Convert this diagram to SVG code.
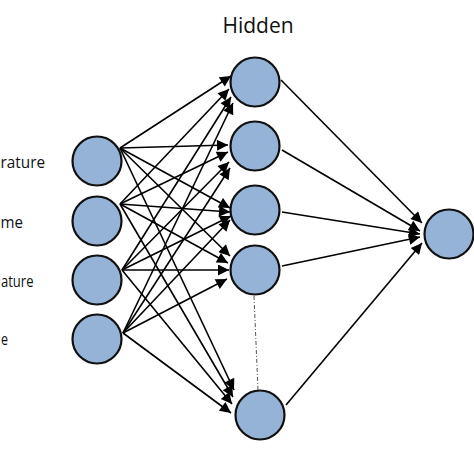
<svg xmlns="http://www.w3.org/2000/svg" width="474" height="474" viewBox="0 0 474 474">
<style>
.node{fill:#95b3d7;stroke:#111;stroke-width:2.2}
.lbl{font-family:"Open Sans","Liberation Sans",sans-serif;font-size:17px;fill:#111}
.ttl{font-family:"Open Sans","Liberation Sans",sans-serif;font-size:21px;fill:#111;text-anchor:middle}
.c line{stroke:#000;stroke-width:1.6;marker-end:url(#ah)}
</style>
<defs>
<marker id="ah" viewBox="0 0 10 10" refX="10" refY="5" markerUnits="userSpaceOnUse" markerWidth="13" markerHeight="11" orient="auto">
<path d="M0,0 L10,5 L0,10 z" fill="#000"/>
</marker>
</defs>
<rect width="474" height="474" fill="#fff"/>
<text class="ttl" x="258" y="33">Hidden</text>
<text class="lbl" x="0.5" y="168" textLength="44.5" lengthAdjust="spacingAndGlyphs">rature</text>
<text class="lbl" x="0.5" y="228" textLength="22.5" lengthAdjust="spacingAndGlyphs">me</text>
<text class="lbl" x="1" y="287" textLength="32.5" lengthAdjust="spacingAndGlyphs">ature</text>
<text class="lbl" x="1" y="345" textLength="7" lengthAdjust="spacingAndGlyphs">e</text>
<g class="c" id="connectors">
<line x1="120" y1="148" x2="231" y2="76"/>
<line x1="120" y1="148" x2="228" y2="145"/>
<line x1="120" y1="148" x2="230" y2="208"/>
<line x1="120" y1="148" x2="230" y2="256"/>
<line x1="120" y1="148" x2="234" y2="390"/>
<line x1="120" y1="204" x2="229" y2="89"/>
<line x1="120" y1="204" x2="228" y2="152"/>
<line x1="120" y1="204" x2="230" y2="212"/>
<line x1="120" y1="204" x2="228" y2="263"/>
<line x1="120" y1="204" x2="233" y2="397"/>
<line x1="122" y1="270" x2="231" y2="97"/>
<line x1="122" y1="270" x2="229" y2="162"/>
<line x1="122" y1="270" x2="231" y2="216"/>
<line x1="122" y1="270" x2="229" y2="270"/>
<line x1="122" y1="270" x2="232" y2="404"/>
<line x1="123" y1="333" x2="233" y2="103"/>
<line x1="123" y1="333" x2="230" y2="168"/>
<line x1="123" y1="333" x2="230" y2="220"/>
<line x1="123" y1="333" x2="227" y2="279"/>
<line x1="123" y1="333" x2="231" y2="413"/>
<line x1="281" y1="80" x2="422" y2="223"/>
<line x1="282" y1="150" x2="420" y2="231"/>
<line x1="282" y1="212" x2="420" y2="234"/>
<line x1="282" y1="266" x2="420" y2="237"/>
<line x1="286" y1="405" x2="422" y2="243"/>
<path d="M254,296 L258,390" stroke="#555" stroke-width="1" stroke-dasharray="4 2 1 2" fill="none"/>
</g>
<g id="in1"><circle class="node" cx="97" cy="161" r="24.5"/></g>
<g id="in2"><circle class="node" cx="97" cy="221" r="24.5"/></g>
<g id="in3"><circle class="node" cx="97" cy="280" r="24.5"/></g>
<g id="in4"><circle class="node" cx="97" cy="339" r="24.5"/></g>
<g id="h1"><circle class="node" cx="255" cy="82" r="24.5"/></g>
<g id="h2"><circle class="node" cx="255" cy="146" r="24.5"/></g>
<g id="h3"><circle class="node" cx="255" cy="210" r="24.5"/></g>
<g id="h4"><circle class="node" cx="255" cy="270" r="24.5"/></g>
<g id="h5"><circle class="node" cx="260" cy="415" r="24.5"/></g>
<g id="out"><circle class="node" cx="449" cy="234" r="24.5"/></g>
</svg>
